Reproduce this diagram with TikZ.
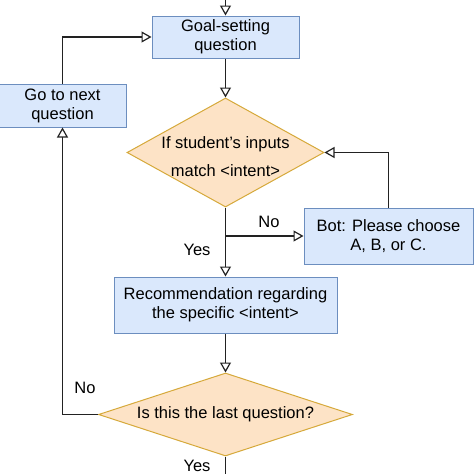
\documentclass[tikz,border=0pt]{standalone}
\usepackage{fontspec}
\setmainfont{Liberation Sans}
\usetikzlibrary{shapes.geometric,arrows.meta}
\definecolor{boxfill}{HTML}{DAE8FC}
\definecolor{boxline}{HTML}{6C8EBF}
\definecolor{diafill}{HTML}{FDE3C6}
\definecolor{dialine}{HTML}{D6A93A}
\definecolor{conn}{HTML}{222222}
\tikzset{
  procbox/.style={draw=boxline, fill=boxfill, line width=1pt, rectangle, inner sep=0pt, align=center, font=\fontsize{16.5}{19}\selectfont},
  decision/.style={draw=dialine, fill=diafill, line width=1pt, diamond, inner sep=0pt},
  txt/.style={align=center, inner sep=0pt, font=\fontsize{16.5}{19}\selectfont},
  flow/.style={draw=conn, line width=1.3pt, -{Triangle[open, length=10pt, width=11pt, line width=1.2pt]}},
  plain/.style={draw=conn, line width=1.3pt},
}
\begin{document}
\begin{tikzpicture}[x=1pt, y=-1pt]
\useasboundingbox (0,0) rectangle (474,474);
\clip (0,0) rectangle (474,474);
\fill[white] (0,0) rectangle (474,474);
% boxes
\node[procbox, minimum width=147, minimum height=42] (goal) at (225.5,37) {Goal-setting\\question};
\node[procbox, minimum width=127, minimum height=43] (next) at (62.5,105.5) {Go to next\\question};
\node[procbox, minimum width=169, minimum height=56] (bot) at (388.5,236) {Bot: Please choose\\A, B, or C.};
\node[procbox, minimum width=223, minimum height=56] (rec) at (225.5,305) {Recommendation regarding\\the specific <intent>};
% diamonds
\node[decision, minimum width=197, minimum height=109] (d1) at (225.5,152.5) {};
\node[txt, font=\fontsize{16.5}{28}\selectfont] (d1t) at (225.5,157) {If student's inputs\\match <intent>};
\node[decision, minimum width=254, minimum height=83] (d2) at (225.5,414.5) {};
\node[txt] (d2t) at (225.5,414) {Is this the last question?};
% free ends
\coordinate (top) at (225.5,0);
\coordinate (bottom) at (225.5,476);
\coordinate (split) at (225.5,236);
% connectors
\draw[flow] (top) -- (goal.north);
\draw[flow] (goal.south) -- (d1.north);
\draw[plain] (d1.south) -- (split);
\draw[flow] (split) -- (rec.north);
\draw[flow] (split) -- (bot.west);
\draw[flow] (bot.north) |- (d1.east);
\draw[flow] (next.north) |- (goal.west);
\draw[flow] (rec.south) -- (d2.north);
\draw[flow] (d2.west) -| (next.south);
\draw[plain] (d2.south) -- (bottom);
% labels
\node[txt] (no1) at (269,222) {No};
\node[txt] (yes1) at (197,250) {Yes};
\node[txt] (no2) at (85,388) {No};
\node[txt] (yes2) at (197,466) {Yes};
\end{tikzpicture}
\end{document}
